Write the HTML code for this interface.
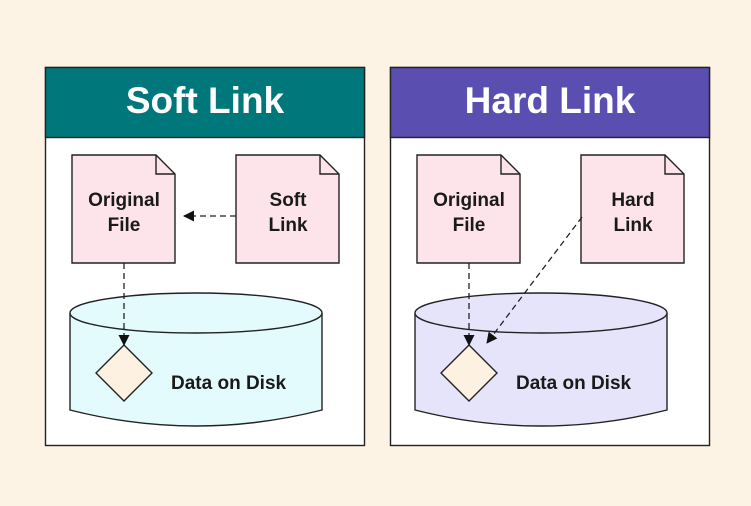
<!DOCTYPE html>
<html><head><meta charset="utf-8"><style>
html,body{margin:0;padding:0;background:#fdf3e4;}
svg{display:block;}
text{font-family:"Liberation Sans","DejaVu Sans",sans-serif;font-weight:bold;fill:#1a1a1a;}
</style></head><body>
<svg width="751" height="506" viewBox="0 0 751 506" xmlns="http://www.w3.org/2000/svg">
<defs>
<marker id="ah" markerWidth="11" markerHeight="11" refX="10" refY="5.5" orient="auto" markerUnits="userSpaceOnUse">
<path d="M0,0 L11,5.5 L0,11 z" fill="#111"/>
</marker>
<g id="doc">
<path d="M0,0 H84 L103,19 V108 H0 Z" fill="#fde4ea" stroke="#222" stroke-width="1.4"/>
<path d="M84,0 V19 H103" fill="none" stroke="#222" stroke-width="1.4"/>
</g>
</defs>
<rect width="751" height="506" fill="#fdf3e4"/>

<!-- Left panel -->
<rect x="45.5" y="67.5" width="319" height="378" fill="#fff" stroke="#222" stroke-width="1.4"/>
<rect x="45.5" y="67.5" width="319" height="70" fill="#00777a" stroke="#222" stroke-width="1.4"/>
<text x="205" y="113" text-anchor="middle" font-size="37" style="fill:#fff">Soft Link</text>
<use href="#doc" x="72" y="155"/>
<use href="#doc" x="236" y="155"/>
<text x="124" y="206" text-anchor="middle" font-size="19">Original</text>
<text x="124" y="231" text-anchor="middle" font-size="19">File</text>
<text x="288" y="206" text-anchor="middle" font-size="19">Soft</text>
<text x="288" y="231" text-anchor="middle" font-size="19">Link</text>
<path d="M70,313 V410 Q196,442 322,410 V313" fill="#e4fbfd" stroke="#222" stroke-width="1.4"/>
<ellipse cx="196" cy="313" rx="126" ry="20" fill="#e4fbfd" stroke="#222" stroke-width="1.4"/>
<polygon points="124,345 152,373 124,401 96,373" fill="#fdf1e2" stroke="#222" stroke-width="1.4"/>
<text x="171" y="389" font-size="19">Data on Disk</text>
<line x1="124" y1="263" x2="124" y2="345" stroke="#222" stroke-width="1.3" stroke-dasharray="6,4" marker-end="url(#ah)"/>
<line x1="236" y1="216" x2="184" y2="216" stroke="#222" stroke-width="1.3" stroke-dasharray="6,4" marker-end="url(#ah)"/>

<!-- Right panel -->
<rect x="390.5" y="67.5" width="319" height="378" fill="#fff" stroke="#222" stroke-width="1.4"/>
<rect x="390.5" y="67.5" width="319" height="70" fill="#5a4fb0" stroke="#222" stroke-width="1.4"/>
<text x="550" y="113" text-anchor="middle" font-size="37" style="fill:#fff">Hard Link</text>
<use href="#doc" x="417" y="155"/>
<use href="#doc" x="581" y="155"/>
<text x="469" y="206" text-anchor="middle" font-size="19">Original</text>
<text x="469" y="231" text-anchor="middle" font-size="19">File</text>
<text x="633" y="206" text-anchor="middle" font-size="19">Hard</text>
<text x="633" y="231" text-anchor="middle" font-size="19">Link</text>
<path d="M415,313 V410 Q541,442 667,410 V313" fill="#e6e4fa" stroke="#222" stroke-width="1.4"/>
<ellipse cx="541" cy="313" rx="126" ry="20" fill="#e6e4fa" stroke="#222" stroke-width="1.4"/>
<polygon points="469,345 497,373 469,401 441,373" fill="#fdf1e2" stroke="#222" stroke-width="1.4"/>
<text x="516" y="389" font-size="19">Data on Disk</text>
<line x1="469" y1="263" x2="469" y2="345" stroke="#222" stroke-width="1.3" stroke-dasharray="6,4" marker-end="url(#ah)"/>
<line x1="582" y1="217" x2="487" y2="343" stroke="#222" stroke-width="1.3" stroke-dasharray="6,4" marker-end="url(#ah)"/>
</svg>
</body></html>
